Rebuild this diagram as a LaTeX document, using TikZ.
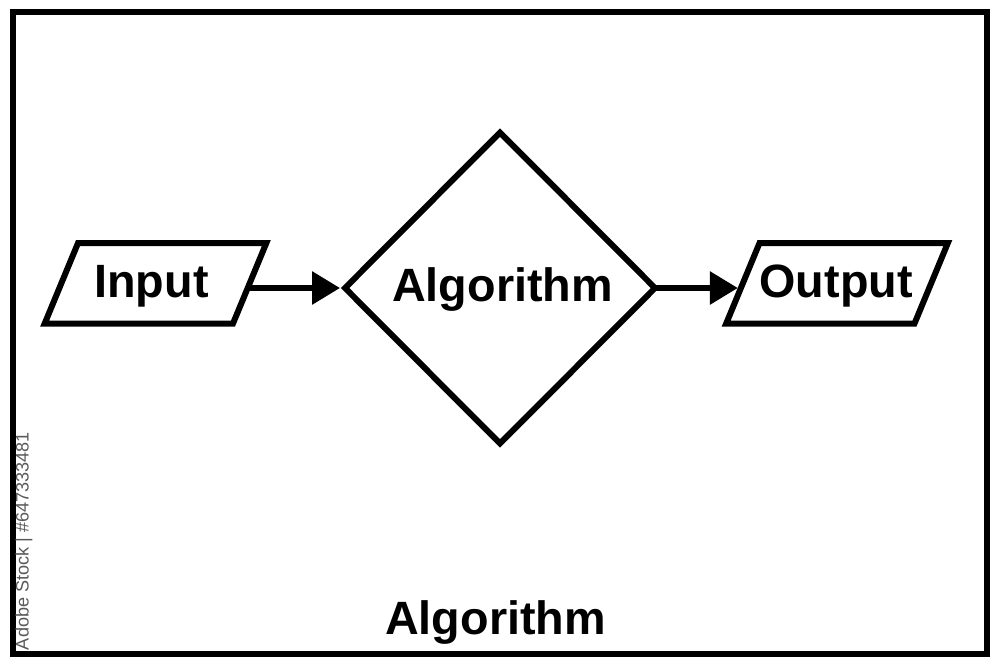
\documentclass[tikz,border=0pt]{standalone}
\usepackage{fontspec}
\setmainfont{Liberation Sans}
\usetikzlibrary{arrows.meta,positioning}
\usetikzlibrary{shapes.geometric}
\tikzset{
labeltext/.style={
  font=\fontsize{26.6}{30}\selectfont\bfseries,
  text=black,
  text height=0.67cm,
  text depth=0.122cm
  },
ioshape/.style={
  labeltext,
  trapezium,
  trapezium left angle=67.5,
  trapezium right angle=112.5,
  draw=black,
  line width=0.12cm,
  inner xsep=0pt,
  inner ysep=0.409cm,
  outer sep=0pt,
  text width=3.1cm,
  align=center
  },
algoshape/.style={
  labeltext,
  diamond,
  draw=black,
  line width=0.12cm,
  inner sep=0pt,
  outer sep=0pt,
  text depth=0.15cm,
  minimum width=6.2cm,
  minimum height=6.22cm
  },
flowline/.style={
  line width=0.12cm,
  shorten >=0.1cm,
  -{Triangle[length=0.56cm,width=0.64cm]}
  }
}
\begin{document}
\begin{tikzpicture}[x=0.02cm,y=-0.02cm]

\useasboundingbox (0,0) rectangle (1000,667);

\node[draw=black,line width=0.124cm,inner sep=0pt,outer sep=0pt,
    minimum width=19.49cm,minimum height=12.84cm] (frame) at (499.9,333) {};

\node[algoshape] (algo) at (500,288) {\hspace*{0.1cm}Algorithm};

\node[ioshape] (input) at (155.5,283.3) {Input\hspace*{0.16cm}};

\node[ioshape] (output) at (837,283.3) {Output\hspace*{0.04cm}};

\draw[flowline] (input.east |- algo) -- (algo.west);

\draw[flowline] (algo.east) -- (algo.east -| output.west);

\node[labeltext] (caption) at (495.5,620.3) {Algorithm};

% stock mark along the frame
\node[rotate=90,text=black!65,font=\fontsize{10.3}{12}\selectfont] (mark) at (24,541) {Adobe Stock | \#647333481};

\end{tikzpicture}
\end{document}
